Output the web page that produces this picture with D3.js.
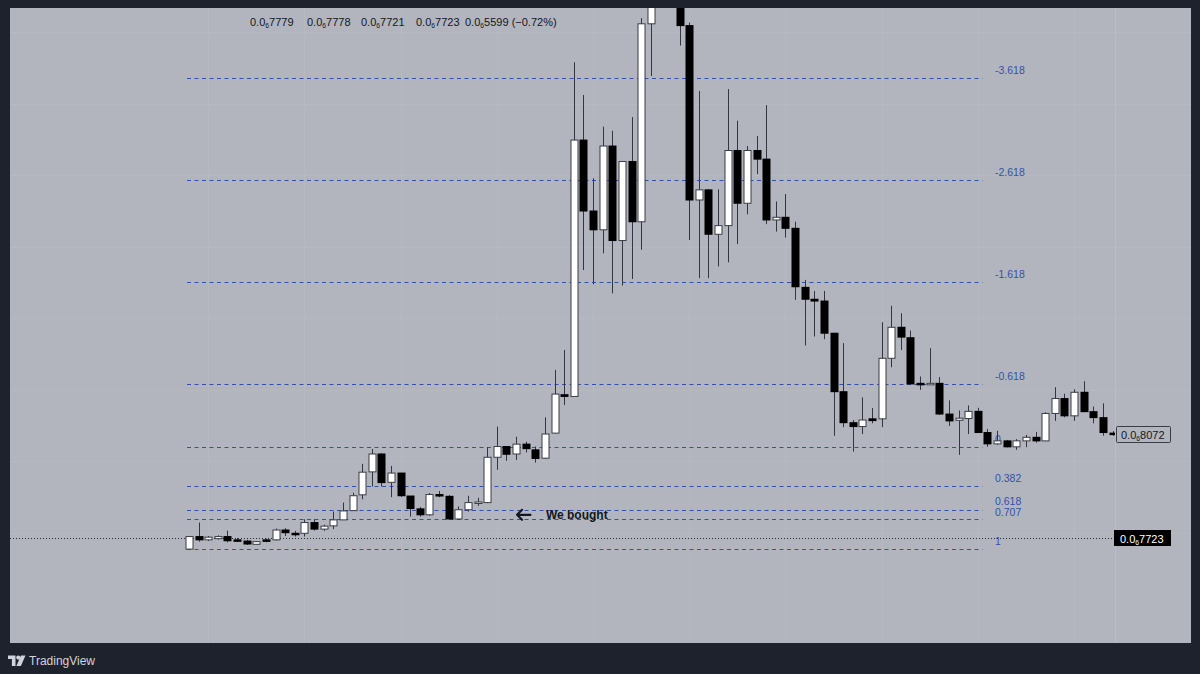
<!DOCTYPE html>
<html><head><meta charset="utf-8">
<script src="https://cdn.jsdelivr.net/npm/d3@7"></script>
<style>html,body{margin:0;padding:0;background:#1e222d;} svg{display:block;}</style>
</head><body><svg id="c" width="1200" height="674"></svg>
<script>
// ---- data (price digits after 0.0₆) ----
const opens  = [7685,7727,7716,7720,7727,7716,7712,7701,7716,7716,7749,7738,7738,7774,7752,7763,7783,7814,7867,7944,8004,7909,7940,7863,7820,7800,7868,7862,7786,7817,7841,7841,7993,8029,8004,8037,8018,7990,8074,8203,8197,9057,8819,8756,9037,8720,8985,8783,9447,9610,9720,9590,9441,8856,8890,8741,8770,9022,8845,9022,8993,8789,8798,8761,8563,8523,8517,8409,8213,8109,8096,8122,8122,8325,8429,8394,8241,8239,8241,8138,8117,8123,8147,8076,8038,8048,8028,8048,8060,8048,8140,8190,8132,8211,8146,8126,8074];
const highs  = [7729,7774,7729,7731,7747,7722,7716,7712,7720,7754,7755,7746,7785,7785,7767,7811,7841,7874,7971,8021,8006,7964,7941,7863,7826,7873,7880,7866,7828,7864,7857,8027,8096,8030,8062,8045,8029,8127,8286,8353,9318,9208,8929,9102,9088,8987,9134,9466,9660,9780,9770,9610,9451,9222,8892,8892,9228,9122,9037,9071,9174,8851,8876,8783,8588,8551,8551,8410,8376,8118,8194,8158,8446,8501,8476,8418,8264,8359,8262,8184,8150,8167,8159,8088,8082,8051,8054,8068,8078,8144,8228,8206,8221,8248,8163,8174,8081];
const lows   = [7682,7710,7712,7717,7708,7710,7699,7699,7708,7714,7729,7727,7727,7747,7746,7752,7783,7813,7852,7895,7895,7859,7860,7794,7794,7797,7859,7785,7785,7811,7830,7839,7951,7981,7984,8009,7975,7988,8073,8168,8196,8621,8573,8677,8543,8569,8591,8689,9272,9560,9540,9374,8722,8594,8594,8633,8647,8708,8808,8943,8775,8750,8730,8521,8368,8398,8389,8065,8094,8012,8071,8107,8094,8295,8353,8238,8219,8238,8135,8098,8001,8071,8075,8028,8035,8026,8018,8027,8042,8047,8115,8127,8115,8145,8107,8065,8065];
const closes = [7727,7716,7725,7727,7713,7715,7702,7710,7712,7749,7740,7737,7774,7752,7762,7783,7813,7864,7943,8004,7908,7940,7864,7821,7800,7868,7867,7786,7817,7841,7843,7993,8029,8003,8037,8022,7989,8071,8205,8197,9057,8819,8756,9037,8720,8985,8783,9447,9610,9720,9590,9441,8856,8890,8741,8770,9022,8845,9022,8993,8789,8798,8761,8565,8523,8517,8409,8213,8109,8096,8118,8116,8325,8429,8396,8239,8238,8241,8138,8115,8124,8147,8076,8038,8048,8028,8048,8060,8048,8140,8190,8132,8211,8146,8126,8076,8072];

const fibLevels = [1, 0.707, 0.618, 0.382, 0, -0.618, -1.618, -2.618, -3.618];
const fibLabels = ["1","0.707","0.618","0.382","0","-0.618","-1.618","-2.618","-3.618"];
const fibPrice0 = 8028, fibPrice1 = 7686;

const headerValues = ["7779","7778","7721","7723","5599"];
const headerChange = " (\u22120.72%)";
const lastPrice = 8072;
const markedPrice = 7723;
const boughtPrice = 7800;
const gridPrices = [7739,7979,8219,8459,8699,8939,9179,9419];

// ---- layout ----
const svg = d3.select("#c");
const W = 1200, H = 674;
const panel = {x:10, y:8, w:1181, h:635};
const axisX = 1115;

const x = d3.scaleLinear().domain([0, 96]).range([189, 1112.5]);
const y = d3.scaleLinear().domain([7370, 9500]).range([643, 8]);
const fibY = l => y(fibPrice0 + (fibPrice1 - fibPrice0) * l);

svg.append("rect").attr("width", W).attr("height", H).attr("fill", "#1e222d");
svg.append("rect").attr("x", panel.x).attr("y", panel.y).attr("width", panel.w).attr("height", panel.h).attr("fill", "#b2b5be");

const defs = svg.append("defs");
defs.append("clipPath").attr("id","clip").append("rect")
  .attr("x", panel.x).attr("y", panel.y).attr("width", axisX - panel.x).attr("height", panel.h);

// grid (very faint)
const grid = svg.append("g").attr("stroke", "#b6b9c1").attr("stroke-width", 1);
d3.range(2, 100, 10).forEach(i => {
  const gx = Math.round(x(i)) + 0.5;
  if (gx < axisX) grid.append("line").attr("x1", gx).attr("x2", gx).attr("y1", panel.y).attr("y2", panel.y + panel.h);
});
gridPrices.forEach(p => {
  const gy = Math.round(y(p)) + 0.5;
  grid.append("line").attr("x1", panel.x).attr("x2", panel.x + panel.w).attr("y1", gy).attr("y2", gy);
});
svg.append("line").attr("x1", axisX + 0.5).attr("x2", axisX + 0.5).attr("y1", panel.y).attr("y2", panel.y + panel.h)
  .attr("stroke", "#babdc4");

// fib lines & labels
const fibG = svg.append("g");
const labelNudge = {"0.618": -1.5, "0.707": 1};
fibLevels.forEach((l, k) => {
  const fy = Math.round(fibY(l)) + 0.5;
  fibG.append("line").attr("x1", x(0) - 2).attr("x2", x(83) - 5).attr("y1", fy).attr("y2", fy)
    .attr("stroke", "#3550aa").attr("stroke-width", 1).attr("stroke-dasharray", "4,3.5");
  fibG.append("text").attr("x", 995).attr("y", fy - 4.5 + (labelNudge[fibLabels[k]] || 0)).text(fibLabels[k])
    .attr("font-family", "Liberation Sans, Arial, sans-serif").attr("font-size", 10.5).attr("fill", "#3550aa");
});

// marked price dotted line
const my = Math.round(y(markedPrice)) + 0.5;
svg.append("line").attr("x1", panel.x).attr("x2", axisX).attr("y1", my).attr("y2", my)
  .attr("stroke", "#2a2e39").attr("stroke-dasharray", "1,2");

// candles
const data = opens.map((o, i) => ({i, o, h: highs[i], l: lows[i], c: closes[i]}));
const cg = svg.append("g").attr("clip-path", "url(#clip)");
const bw = 7;
data.forEach(d => {
  const cx = Math.round(x(d.i)) + 0.5;
  cg.append("line").attr("x1", cx).attr("x2", cx).attr("y1", y(d.h)).attr("y2", y(d.l))
    .attr("stroke", "#333640").attr("stroke-width", 1);
  const up = d.c >= d.o;
  const top = y(Math.max(d.o, d.c)), bot = y(Math.min(d.o, d.c));
  const hgt = Math.max(1.5, bot - top);
  if (up) {
    cg.append("rect").attr("x", cx - bw/2).attr("y", top).attr("width", bw).attr("height", hgt)
      .attr("fill", "#ffffff").attr("stroke", "#3a3d45").attr("stroke-width", 1);
  } else {
    cg.append("rect").attr("x", cx - bw/2 - 0.5).attr("y", top - 0.5).attr("width", bw + 1).attr("height", hgt + 1)
      .attr("fill", "#000000");
  }
});

// "We bought" annotation
const by = y(boughtPrice);
const ax0 = x(34.1), ax1 = x(35.5);
svg.append("path")
  .attr("d", `M${ax1},${by} L${ax0},${by} M${ax0 + 5},${by - 5} L${ax0},${by} L${ax0 + 5},${by + 5}`)
  .attr("fill", "none").attr("stroke", "#131722").attr("stroke-width", 2.2).attr("stroke-linecap", "round").attr("stroke-linejoin", "round");
svg.append("text").attr("x", x(37.1)).attr("y", by + 4).text("We bought")
  .attr("font-family", "Liberation Sans, Arial, sans-serif").attr("font-size", 12).attr("font-weight", "bold").attr("fill", "#131722");

// helper for subscript price text
function priceText(sel, digits, sub) {
  sel.append("tspan").text("0.0");
  sel.append("tspan").attr("font-size", "0.62em").attr("dy", 2).text(sub);
  sel.append("tspan").attr("dy", -2).text(digits);
}

// header OHLC
const hx = [250, 307, 361, 416, 465];
headerValues.forEach((v, k) => {
  const t = svg.append("text").attr("x", hx[k]).attr("y", 26)
    .attr("font-family", "Liberation Sans, Arial, sans-serif").attr("font-size", 11).attr("fill", "#131722");
  priceText(t, v, "6");
  if (k === headerValues.length - 1) t.append("tspan").text(headerChange);
});

// last price label (outlined)
const ly = Math.round(y(lastPrice));
svg.append("rect").attr("x", 1116.5).attr("y", ly - 7.5).attr("width", 54).attr("height", 16)
  .attr("fill", "#b2b5be").attr("stroke", "#3a3d45").attr("rx", 1);
const lt = svg.append("text").attr("x", 1121).attr("y", ly + 4.5)
  .attr("font-family", "Liberation Sans, Arial, sans-serif").attr("font-size", 11).attr("fill", "#131722");
priceText(lt, String(lastPrice), "6");

// marked price label (black)
svg.append("rect").attr("x", 1114).attr("y", my - 8.5).attr("width", 57).attr("height", 16).attr("fill", "#000");
const mt = svg.append("text").attr("x", 1120).attr("y", my + 4)
  .attr("font-family", "Liberation Sans, Arial, sans-serif").attr("font-size", 11).attr("fill", "#ffffff");
priceText(mt, String(markedPrice), "6");

// TradingView footer logo
const lg = svg.append("g").attr("fill", "#d1d4dc");
lg.append("path").attr("d", "M8,655.5 h7.5 v10.5 h-3.6 v-7 h-3.9 z");
lg.append("circle").attr("cx", 18.3).attr("cy", 657.6).attr("r", 2.1);
lg.append("path").attr("d", "M21,655.5 h4.5 l-4.6,10.5 h-4.5 z");
svg.append("text").attr("x", 29).attr("y", 665).text("TradingView")
  .attr("font-family", "Liberation Sans, Arial, sans-serif").attr("font-size", 12).attr("fill", "#d1d4dc");
</script></body></html>
